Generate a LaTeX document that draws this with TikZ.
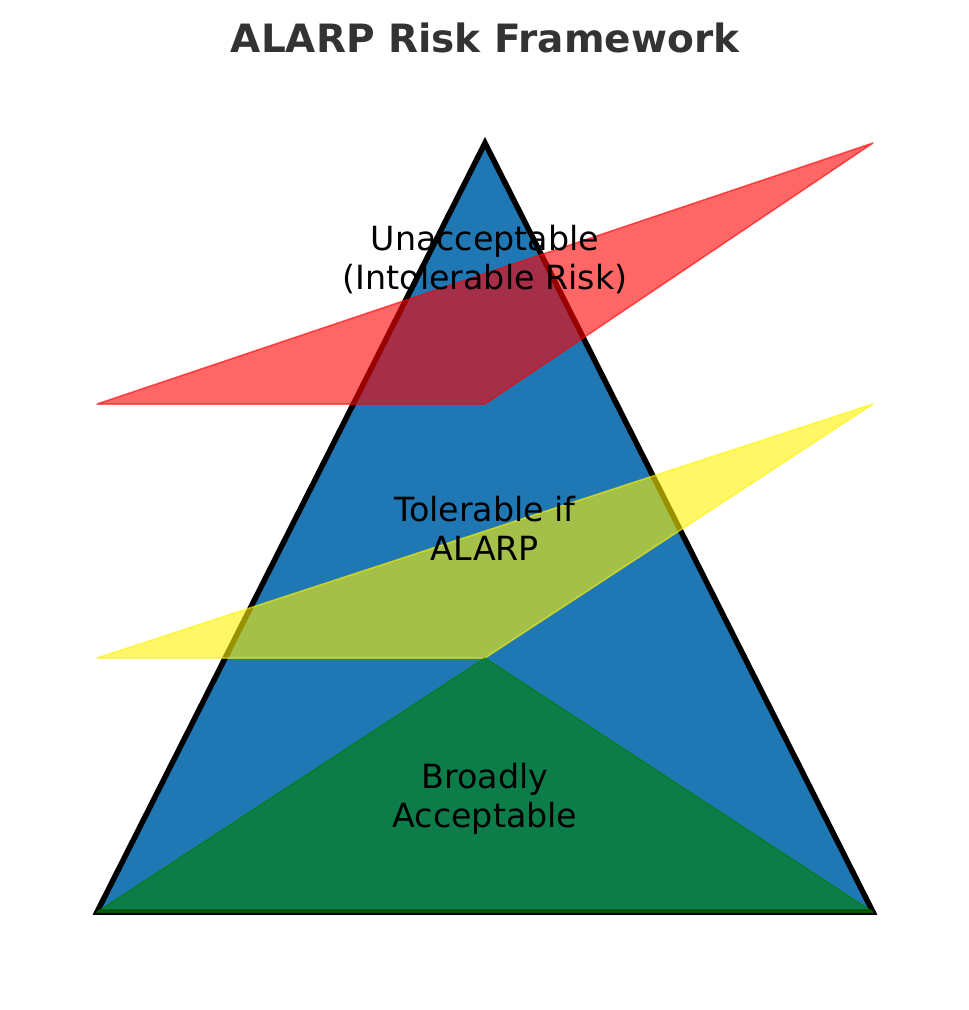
\documentclass[tikz,border=0pt]{standalone}
\usepackage{fontspec}
\setmainfont{DejaVu Sans}
\definecolor{riskblue}{HTML}{1F77B4}
\definecolor{riskgreen}{HTML}{008000}
\definecolor{titlegray}{HTML}{333333}
\begin{document}
\begin{tikzpicture}[x=1pt,y=-1pt,
	zone/.style={line width=1.5pt, line join=round, opacity=0.6},
	zonelabel/.style={align=center, font=\fontsize{33.3}{39}\selectfont}]
	\useasboundingbox (0,0) rectangle (969,1010);

	\coordinate (BL) at (97,912);
	\coordinate (BR) at (873,912);
	\coordinate (T) at (485,143);

	\node[font=\bfseries\fontsize{39}{46}\selectfont, text=titlegray] (title) at (485,38) {ALARP Risk Framework};

	\draw[fill=riskblue, line width=5.5pt] (BL) -- (T) -- (BR) -- cycle;

	\draw[zone, draw=red, fill=red] (97,404) -- (485,404) -- (873,143) -- cycle;
	\draw[zone, draw=yellow, fill=yellow] (97,658) -- (485,658) -- (873,404) -- cycle;
	\draw[zone, draw=riskgreen, fill=riskgreen] (BL) -- (485,658) -- (BR) -- cycle;

	\node[zonelabel] (unacceptable) at (485,260) {Unacceptable\\(Intolerable Risk)};
	\node[zonelabel] (tolerable) at (485,528) {Tolerable if\\ALARP};
	\node[zonelabel] (acceptable) at (485,799) {Broadly\\Acceptable};
\end{tikzpicture}
\end{document}
